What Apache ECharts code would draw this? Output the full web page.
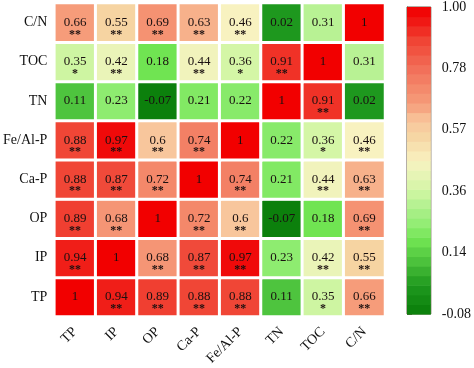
<!DOCTYPE html>
<html><head><meta charset="utf-8">
<script src="https://cdn.jsdelivr.net/npm/echarts@6/dist/echarts.min.js"></script>
<style>html,body{margin:0;padding:0;background:#fff}#c{width:474px;height:368px}</style>
</head><body><div id="c"></div>
<script>
// Categories (x: left->right, y: bottom->top)
const categories = ['TP', 'IP', 'OP', 'Ca-P', 'Fe/Al-P', 'TN', 'TOC', 'C/N'];

// Correlation rows (values across columns TP..C/N) and significance marks
const rowTP    = [1, 0.94, 0.89, 0.88, 0.88, 0.11, 0.35, 0.66];
const sigTP    = ['', '**', '**', '**', '**', '', '*', '**'];
const rowIP    = [0.94, 1, 0.68, 0.87, 0.97, 0.23, 0.42, 0.55];
const sigIP    = ['**', '', '**', '**', '**', '', '**', '**'];
const rowOP    = [0.89, 0.68, 1, 0.72, 0.6, -0.07, 0.18, 0.69];
const sigOP    = ['**', '**', '', '**', '**', '', '', '**'];
const rowCaP   = [0.88, 0.87, 0.72, 1, 0.74, 0.21, 0.44, 0.63];
const sigCaP   = ['**', '**', '**', '', '**', '', '**', '**'];
const rowFeAlP = [0.88, 0.97, 0.6, 0.74, 1, 0.22, 0.36, 0.46];
const sigFeAlP = ['**', '**', '**', '**', '', '', '*', '**'];
const rowTN    = [0.11, 0.23, -0.07, 0.21, 0.22, 1, 0.91, 0.02];
const sigTN    = ['', '', '', '', '', '', '**', ''];
const rowTOC   = [0.35, 0.42, 0.18, 0.44, 0.36, 0.91, 1, 0.31];
const sigTOC   = ['*', '**', '', '**', '*', '**', '', ''];
const rowCN    = [0.66, 0.55, 0.69, 0.63, 0.46, 0.02, 0.31, 1];
const sigCN    = ['**', '**', '**', '**', '**', '', '', ''];

// Colour bar
const colorbarMin = -0.08;
const colorbarMax = 1.00;
const colorbarTickLabels = ['-0.08', '0.14', '0.36', '0.57', '0.78', '1.00'];
const colorbarBands = 32;

const rows = [rowTP, rowIP, rowOP, rowCaP, rowFeAlP, rowTN, rowTOC, rowCN];
const sigs = [sigTP, sigIP, sigOP, sigCaP, sigFeAlP, sigTN, sigTOC, sigCN];

// colour scale stops
const stops = [
  [-0.08, [10, 125, 10]],
  [0.02, [30, 152, 30]],
  [0.11, [78, 196, 62]],
  [0.18, [112, 228, 82]],
  [0.23, [142, 236, 112]],
  [0.31, [184, 242, 148]],
  [0.36, [212, 246, 166]],
  [0.42, [234, 244, 184]],
  [0.46, [248, 242, 192]],
  [0.55, [246, 212, 162]],
  [0.60, [248, 198, 156]],
  [0.66, [246, 156, 122]],
  [0.72, [244, 136, 106]],
  [0.78, [242, 112, 90]],
  [0.88, [240, 70, 54]],
  [0.94, [240, 30, 24]],
  [0.97, [240, 10, 10]],
  [1.00, [242, 0, 0]]
];
function colorFor(v) {
  if (v <= stops[0][0]) return 'rgb(' + stops[0][1].join(',') + ')';
  for (let i = 1; i < stops.length; i++) {
    if (v <= stops[i][0]) {
      const a = stops[i - 1], b = stops[i];
      const t = (v - a[0]) / (b[0] - a[0]);
      const c = a[1].map((x, k) => Math.round(x + (b[1][k] - x) * t));
      return 'rgb(' + c.join(',') + ')';
    }
  }
  return 'rgb(' + stops[stops.length - 1][1].join(',') + ')';
}

const cellData = [];
const starData = [];
rows.forEach((row, yi) => {
  row.forEach((v, xi) => {
    cellData.push({ value: [xi, yi, v], itemStyle: { color: colorFor(v) } });
    starData.push({ value: [xi, yi, v, sigs[yi][xi]] });
  });
});

const bandStep = (colorbarMax - colorbarMin) / colorbarBands;
const bandData = [];
for (let i = 0; i < colorbarBands; i++) {
  bandData.push([colorbarMin + i * bandStep, colorbarMin + (i + 1) * bandStep]);
}
const tickInterval = (colorbarMax - colorbarMin) / (colorbarTickLabels.length - 1);

const font = '"Liberation Serif", "Times New Roman", serif';
const axisColor = '#333';

const chart = echarts.init(document.getElementById('c'));
chart.setOption({
  animation: false,
  backgroundColor: '#fff',
  grid: [
    { left: 54, top: 3, width: 331, height: 316, show: true, borderColor: axisColor, borderWidth: 1.5, backgroundColor: 'transparent' },
    { left: 407, top: 7, width: 30, height: 307, show: true, borderColor: '#6a5f4c', borderWidth: 1, backgroundColor: 'transparent' }
  ],
  xAxis: [
    {
      gridIndex: 0, type: 'category', data: categories,
      axisLine: { lineStyle: { color: axisColor, width: 1.5 } },
      axisTick: { alignWithLabel: true, length: 5, lineStyle: { color: axisColor, width: 1.5 } },
      axisLabel: { rotate: 45, margin: 13, fontFamily: font, fontSize: 14, color: '#111' },
      splitArea: { show: false }
    },
    { gridIndex: 1, type: 'value', min: 0, max: 1, show: false }
  ],
  yAxis: [
    {
      gridIndex: 0, type: 'category', data: categories,
      axisLine: { lineStyle: { color: axisColor, width: 1.5 } },
      axisTick: { alignWithLabel: true, length: 5, lineStyle: { color: axisColor, width: 1.5 } },
      axisLabel: { margin: 7, fontFamily: font, fontSize: 14, color: '#111' },
      splitArea: { show: false }
    },
    {
      gridIndex: 1, type: 'value', position: 'right',
      min: colorbarMin, max: colorbarMax, interval: tickInterval,
      splitLine: { show: false },
      axisLine: { show: true, lineStyle: { color: '#6a5f4c', width: 1 } },
      axisTick: { show: true, length: 5, lineStyle: { color: '#6a5f4c' } },
      axisLabel: {
        margin: 11, fontFamily: font, fontSize: 14, color: '#111',
        formatter: v => colorbarTickLabels[Math.round((v - colorbarMin) / tickInterval)]
      }
    }
  ],
  series: [
    {
      type: 'heatmap', xAxisIndex: 0, yAxisIndex: 0, data: cellData,
      itemStyle: { borderColor: '#fff', borderWidth: 3 },
      label: {
        show: true, fontFamily: font, fontSize: 13, color: '#1a1010', offset: [0, 0],
        formatter: p => String(p.value[2])
      },
      emphasis: { disabled: true }
    },
    {
      type: 'heatmap', xAxisIndex: 0, yAxisIndex: 0, data: starData,
      itemStyle: { color: 'rgba(0,0,0,0)', borderWidth: 0 },
      label: {
        show: true, fontFamily: font, fontSize: 12, fontWeight: 'bold', color: '#1a1010', offset: [0, 12],
        formatter: p => p.value[3]
      },
      emphasis: { disabled: true }
    },
    {
      type: 'custom', xAxisIndex: 1, yAxisIndex: 1, data: bandData,
      renderItem: (params, api) => {
        const lo = api.value(0), hi = api.value(1);
        const p1 = api.coord([0, hi]);
        const p2 = api.coord([1, lo]);
        return {
          type: 'rect',
          shape: { x: p1[0], y: p1[1], width: p2[0] - p1[0], height: p2[1] - p1[1] + 0.6 },
          style: { fill: colorFor((lo + hi) / 2) }
        };
      },
      z: 1
    }
  ]
});
</script>
</body></html>
